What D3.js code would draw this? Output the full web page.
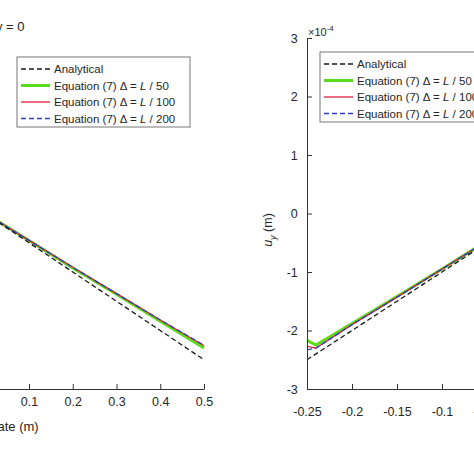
<!DOCTYPE html>
<html><head><meta charset="utf-8">
<script src="https://cdn.jsdelivr.net/npm/d3@7"></script>
<style>body{margin:0;background:#fff}text{font-family:"Liberation Sans",Arial,sans-serif;fill:#262626}</style>
</head><body><svg id="c" width="474" height="474"></svg>
<script>
// left panel: u_x along y = 0
var leftX = [0, 0.1, 0.2, 0.3, 0.4, 0.5];
var leftAnalytical = [0, -0.5, -1.0, -1.5, -2.0, -2.5];
var leftEq50  = [0, -0.46, -0.93, -1.38, -1.84, -2.30];
var leftEq100 = [0, -0.46, -0.92, -1.37, -1.82, -2.26];
var leftEq200 = [0, -0.46, -0.92, -1.37, -1.82, -2.25];
// right panel: u_y along x
var rightX = [-0.25, -0.24, -0.2, -0.15, -0.1, -0.05];
var rightAnalytical = [-2.5, -2.4, -2.0, -1.5, -1.0, -0.5];
var rightEq50  = [-2.17, -2.25, -1.88, -1.42, -0.95, -0.47];
var rightEq100 = [-2.27, -2.30, -1.90, -1.43, -0.95, -0.47];
var rightEq200 = [-2.33, -2.30, -1.90, -1.43, -0.95, -0.47];
var yTicks = [-3, -2, -1, 0, 1, 2, 3];
var legendLabels = ["Analytical", "Equation (7) \u0394 = L / 50", "Equation (7) \u0394 = L / 100", "Equation (7) \u0394 = L / 200"];
var styles = [
  {color: "#1a1a1a", width: 1.3, dash: "5,3"},
  {color: "#5cdc1c", width: 3, dash: null},
  {color: "#e0213a", width: 1.3, dash: null},
  {color: "#2b3fc8", width: 1.3, dash: "5,3"}
];

var svg = d3.select("#c");
var y = d3.scaleLinear().domain([-3, 3]).range([389, 38]);
var fmt = function(d){ return String(d); };   // plain hyphen minus, like MATLAB

function drawLines(x, xs, series) {
  var line = d3.line().x(function(d, i){ return x(xs[i]); }).y(function(d){ return y(d); });
  [1, 2, 3, 0].forEach(function(k) {
    svg.append("path").attr("d", line(series[k])).attr("fill", "none")
      .attr("stroke", styles[k].color).attr("stroke-width", styles[k].width)
      .attr("stroke-dasharray", styles[k].dash);
  });
}

function legend(x0, y0, w) {
  svg.append("rect").attr("x", x0).attr("y", y0).attr("width", w).attr("height", 70)
    .attr("fill", "#fff").attr("stroke", "#777").attr("stroke-width", 1);
  legendLabels.forEach(function(lab, i) {
    var yy = y0 + 12 + i * 16.5;
    svg.append("line").attr("x1", x0 + 4).attr("x2", x0 + 33).attr("y1", yy).attr("y2", yy)
      .attr("stroke", styles[i].color).attr("stroke-width", styles[i].width)
      .attr("stroke-dasharray", styles[i].dash);
    var t = svg.append("text").attr("x", x0 + 37).attr("y", yy + 4).attr("font-size", 11.5);
    var parts = lab.split("L");
    t.append("tspan").text(parts[0]);
    if (parts.length > 1) {
      t.append("tspan").attr("font-style", "italic").text("L");
      t.append("tspan").text(parts[1]);
    }
  });
}

function styleAxis(g, dy) {
  g.selectAll("text").attr("font-size", 12.5).style("fill", "#262626");
  if (dy) g.selectAll("text").attr("dy", dy);
  g.selectAll("line,path").attr("stroke", "#333");
}

// left
var xl = d3.scaleLinear().domain([0, 0.5]).range([-14.75, 204]);
drawLines(xl, leftX, [leftAnalytical, leftEq50, leftEq100, leftEq200]);
svg.append("g").attr("transform", "translate(0,389)")
  .call(d3.axisBottom(xl).tickValues(leftX).tickSizeInner(-5).tickSizeOuter(0).tickFormat(fmt))
  .call(function(g){ styleAxis(g, "1.1em"); });
svg.append("text").attr("x", -48).attr("y", 431).attr("font-size", 13).text("Coordinate (m)");
svg.append("text").attr("x", -4).attr("y", 31).attr("font-size", 13).text("y = 0");
legend(17, 57, 173);

// right
var xr = d3.scaleLinear().domain([-0.25, -0.05]).range([307, 487]);
drawLines(xr, rightX, [rightAnalytical, rightEq50, rightEq100, rightEq200]);
svg.append("g").attr("transform", "translate(0,389)")
  .call(d3.axisBottom(xr).tickValues([-0.25, -0.2, -0.15, -0.1, -0.05]).tickSizeInner(-5).tickSizeOuter(0).tickFormat(fmt))
  .call(function(g){ styleAxis(g, "1.9em"); });
svg.append("g").attr("transform", "translate(307,0)")
  .call(d3.axisLeft(y).tickValues(yTicks).tickSizeInner(-5).tickSizeOuter(0).tickFormat(fmt))
  .call(function(g){ styleAxis(g); g.selectAll("text").attr("dx", "-0.5em"); });
var mult = svg.append("text").attr("x", 308).attr("y", 36).attr("font-size", 11);
mult.append("tspan").text("\u00d710");
mult.append("tspan").attr("dy", -5).attr("font-size", 8).text("-4");
var yl = svg.append("text").attr("transform", "translate(272,230) rotate(-90)")
  .attr("text-anchor", "middle").attr("font-size", 12.5);
yl.append("tspan").attr("font-style", "italic").text("u");
yl.append("tspan").attr("dy", 4).attr("font-size", 9).attr("font-style", "italic").text("y");
yl.append("tspan").attr("dy", -4).text(" (m)");
legend(320, 52, 180);
</script></body></html>
